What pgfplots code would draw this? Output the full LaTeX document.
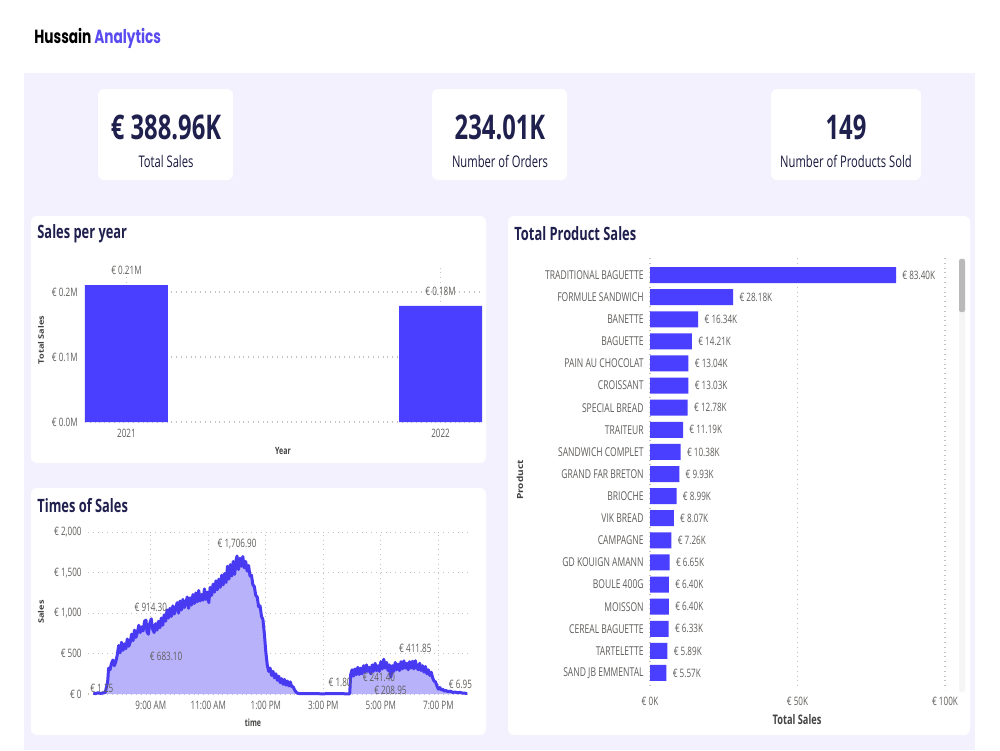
\documentclass[border=0pt]{standalone}
\usepackage{fontspec}
\setmainfont[FakeStretch=0.7]{Open Sans}
\newfontfamily\logofont[FakeStretch=0.72]{Poppins}
\newfontfamily\rotfont[FakeStretch=1.2]{Open Sans}
\usepackage{pgfplots}
\usepackage{pgfplotstable}
\pgfplotsset{compat=1.18}

\definecolor{barblue}{RGB}{74,62,255}
\definecolor{lineblue}{RGB}{72,58,240}
\definecolor{areafill}{RGB}{184,178,250}
\definecolor{bgpanel}{RGB}{243,241,253}
\definecolor{navy}{RGB}{32,32,78}
\definecolor{lblgray}{RGB}{96,94,92}
\definecolor{gridgray}{RGB}{195,195,195}
\definecolor{logoblue}{RGB}{90,75,240}

\newcommand\fTick{\fontsize{5.8}{6}\selectfont}
\newcommand\fCat{\fontsize{6.1}{6.5}\selectfont}
\newcommand\fAxT{\bfseries\fontsize{5}{6}\selectfont}
\newcommand\fRot{\rotfont\bfseries\fontsize{3.8}{4}\selectfont}
\newcommand\fTitle{\bfseries\fontsize{9.2}{10}\selectfont}
\newcommand\fKpi{\bfseries\fontsize{17}{18}\selectfont}
\newcommand\fKpiL{\fontsize{8}{9}\selectfont}

\tikzset{lbl/.style={text=lblgray, font=\fTick, inner sep=0pt}}

% sales per minute of the day (x = minutes after midnight)
\pgfplotstableread{
m v
420 10
425 5
430 15
435 8
440 12
445 20
450 150
452 320
455 300
458 380
461 420
464 350
467 400
470 480
473 600
476 510
479 640
482 540
485 620
488 560
491 680
494 590
497 640
500 740
503 660
506 790
509 700
512 760
515 850
518 760
521 830
524 780
527 900
530 914
532 770
535 740
538 880
541 930
544 800
547 760
550 870
553 790
556 900
559 820
562 940
565 850
568 980
571 900
574 1040
577 940
580 1060
583 960
586 1090
589 990
592 1060
595 1130
598 1000
601 1150
604 1040
607 1170
610 1070
613 1120
616 1200
619 1060
622 1190
625 1100
628 1230
631 1120
634 1250
637 1140
640 1280
643 1150
646 1230
649 1160
652 1300
655 1170
658 1260
661 1130
664 1320
667 1220
670 1360
673 1260
676 1400
679 1290
682 1420
685 1320
688 1470
691 1350
694 1490
697 1380
700 1580
703 1420
706 1600
709 1460
712 1640
715 1480
718 1660
720 1706.9
723 1540
726 1680
729 1580
732 1700
735 1560
738 1640
741 1520
744 1590
747 1460
750 1470
753 1350
756 1330
759 1220
762 1200
765 1080
768 1090
771 960
774 920
777 740
780 520
783 360
786 280
789 320
792 230
795 280
798 200
801 250
804 170
807 220
810 140
813 190
816 120
819 180
822 110
825 160
828 100
831 150
834 90
837 90
840 50
843 25
846 10
850 5
870 4
900 3
930 5
955 1.8
957 240
960 300
963 220
966 310
969 240
972 330
975 241.4
978 320
981 250
984 350
987 270
990 360
993 280
996 330
999 250
1002 360
1005 280
1008 380
1011 290
1014 350
1017 280
1020 400
1023 310
1026 430
1029 320
1032 390
1035 290
1038 360
1041 208.95
1044 350
1047 280
1050 390
1053 300
1056 370
1059 290
1062 400
1065 310
1068 410
1071 320
1074 380
1077 300
1080 400
1083 320
1086 405
1089 310
1092 411.85
1095 330
1098 300
1101 380
1104 290
1107 350
1110 270
1113 340
1116 250
1119 300
1122 230
1125 270
1128 200
1131 160
1134 150
1137 100
1140 60
1143 80
1146 50
1149 60
1152 35
1155 45
1160 30
1165 35
1170 20
1175 25
1180 15
1185 20
1190 12
1195 10
1200 6.95
}\timedata

\begin{document}
\begin{tikzpicture}
\path[use as bounding box, fill=white] (0pt,0pt) rectangle (500pt,-375pt);
\begin{scope}[x=0.5pt, y=-0.5pt]
  % background and cards
  \fill[bgpanel] (24,73) rectangle (975,750);
  \node[anchor=west, inner sep=0pt, font=\logofont\bfseries\fontsize{9.5}{10}\selectfont]
    at (34,38) {Hussain \textcolor{logoblue}{Analytics}};
  \fill[white, rounded corners=3pt] (98,89) rectangle (233,180);
  \fill[white, rounded corners=3pt] (432,89) rectangle (567,180);
  \fill[white, rounded corners=3pt] (771,89) rectangle (921,180);
  \node[text=navy, font=\fKpi] at (166,127) {€ 388.96K};
  \node[text=navy, font=\fKpi] at (500,127) {234.01K};
  \node[text=navy, font=\fKpi] at (846,127) {149};
  \node[text=navy!80!black, font=\fKpiL] at (166,161) {Total Sales};
  \node[text=navy!80!black, font=\fKpiL] at (500,161) {Number of Orders};
  \node[text=navy!80!black, font=\fKpiL] at (846,161) {Number of Products Sold};
  % panels
  \fill[white, rounded corners=3pt] (31,216) rectangle (486,463);
  \fill[white, rounded corners=3pt] (31,488) rectangle (486,735);
  \fill[white, rounded corners=3pt] (508,216) rectangle (970,735);
  \node[anchor=west, inner sep=0pt, text=navy, font=\fTitle] at (37,234) {Sales per year};
  \node[anchor=west, inner sep=0pt, text=navy, font=\fTitle] at (37,506) {Times of Sales};
  \node[anchor=west, inner sep=0pt, text=navy, font=\fTitle] at (514,234) {Total Product Sales};
  % axis titles
  \node[rotate=90, text=lblgray!70!black, font=\fRot] at (41,340) {Total Sales};
  \node[text=lblgray!70!black, font=\fAxT] at (283,451) {Year};
  \node[rotate=90, text=lblgray!70!black, font=\fRot] at (41,612) {Sales};
  \node[text=lblgray!70!black, font=\fAxT] at (253,723) {time};
  \node[rotate=90, text=lblgray!70!black, font=\rotfont\bfseries\fontsize{4.2}{4.5}\selectfont] at (520,480) {Product};
  \node[text=lblgray!70!black, font=\bfseries\fontsize{6.6}{7}\selectfont] at (797,720) {Total Sales};
  % scrollbar
  \fill[gray!8, rounded corners=1pt] (959,258) rectangle (965,692);
  \fill[gray!55, rounded corners=1pt] (959,259) rectangle (965,312);
\end{scope}

\pgfplotsset{dash/.style={
  axis line style={draw=none}, tick style={draw=none},
  grid style={gridgray, dotted, line width=0.6pt},
  ticklabel style={font=\fTick, text=lblgray, inner sep=0pt},
  scale only axis, clip=false}}

% Sales per year
\begin{axis}[dash,
  at={(42.5pt,-211pt)}, anchor=south west,
  width=198.5pt, height=78pt,
  xmin=-0.132, xmax=1.132, ymin=0, ymax=0.24,
  xtick={0,1}, xticklabels={2021,2022},
  ytick={0,0.1,0.2}, yticklabels={€ 0.0M,€ 0.1M,€ 0.2M},
  xmajorgrids, ymajorgrids,
  yticklabel style={xshift=-3.5pt},
  xticklabel style={yshift=-3.5pt}]
\addplot[ybar, bar width=41.5pt, fill=barblue, draw=none] coordinates {(0,0.2105) (1,0.1785)};
\node[lbl, anchor=south, yshift=5pt] at (axis cs:0,0.2105) {€ 0.21M};
\node[lbl, anchor=south, yshift=5pt] at (axis cs:1,0.1785) {€ 0.18M};
\end{axis}

% Times of Sales
\begin{axis}[dash,
  at={(44pt,-347pt)}, anchor=south west,
  width=191pt, height=80.85pt,
  xmin=409, xmax=1206, ymin=0, ymax=2000,
  xtick={540,660,780,900,1020,1140},
  xticklabels={9:00 AM,11:00 AM,1:00 PM,3:00 PM,5:00 PM,7:00 PM},
  ytick={0,500,1000,1500,2000},
  yticklabels={€ 0,€ 500,{€ 1,000},{€ 1,500},{€ 2,000}},
  xmajorgrids, ymajorgrids,
  yticklabel style={xshift=-3pt},
  xticklabel style={yshift=-3.5pt}]
\addplot[fill=areafill, draw=none] table[x=m, y=v] {\timedata} \closedcycle;
\addplot[lineblue, line width=1.5pt, line join=round] table[x=m, y=v] {\timedata};
\node[lbl, anchor=west] at (axis cs:413,70) {€ 1.25};
\node[lbl] at (axis cs:540,1070) {€ 914.30};
\node[lbl] at (axis cs:572,470) {€ 683.10};
\node[lbl] at (axis cs:720,1850) {€ 1,706.90};
\node[lbl] at (axis cs:935,150) {€ 1.80};
\node[lbl] at (axis cs:1016,205) {€ 241.40};
\node[lbl] at (axis cs:1040,40) {€ 208.95};
\node[lbl] at (axis cs:1092,570) {€ 411.85};
\node[lbl] at (axis cs:1186,125) {€ 6.95};
\end{axis}

% Total Product Sales
\begin{axis}[dash,
  at={(325pt,-345pt)}, anchor=south west,
  width=147.5pt, height=216pt,
  xmin=0, xmax=100, ymin=-0.77, ymax=18.77, y dir=reverse,
  xtick={0,50,100}, xticklabels={€ 0K,€ 50K,€ 100K},
  ytick={0,...,18},
  yticklabels={TRADITIONAL BAGUETTE,FORMULE SANDWICH,BANETTE,BAGUETTE,PAIN AU CHOCOLAT,CROISSANT,SPECIAL BREAD,TRAITEUR,SANDWICH COMPLET,GRAND FAR BRETON,BRIOCHE,VIK BREAD,CAMPAGNE,GD KOUIGN AMANN,BOULE 400G,MOISSON,CEREAL BAGUETTE,TARTELETTE,SAND JB EMMENTAL},
  xmajorgrids,
  yticklabel style={xshift=-3pt, font=\fCat},
  xticklabel style={yshift=-3.5pt}]
\addplot[xbar, bar width=8pt, fill=barblue, draw=none,
  point meta=explicit symbolic,
  nodes near coords, nodes near coords align={horizontal},
  every node near coord/.style={text=lblgray, font=\fTick, anchor=west, inner sep=0pt, xshift=3pt}]
  coordinates {
  (83.40,0) [€ 83.40K]
  (28.18,1) [€ 28.18K]
  (16.34,2) [€ 16.34K]
  (14.21,3) [€ 14.21K]
  (13.04,4) [€ 13.04K]
  (13.03,5) [€ 13.03K]
  (12.78,6) [€ 12.78K]
  (11.19,7) [€ 11.19K]
  (10.38,8) [€ 10.38K]
  (9.93,9) [€ 9.93K]
  (8.99,10) [€ 8.99K]
  (8.07,11) [€ 8.07K]
  (7.26,12) [€ 7.26K]
  (6.65,13) [€ 6.65K]
  (6.40,14) [€ 6.40K]
  (6.40,15) [€ 6.40K]
  (6.33,16) [€ 6.33K]
  (5.89,17) [€ 5.89K]
  (5.57,18) [€ 5.57K]
  };
\end{axis}
\end{tikzpicture}
\end{document}
